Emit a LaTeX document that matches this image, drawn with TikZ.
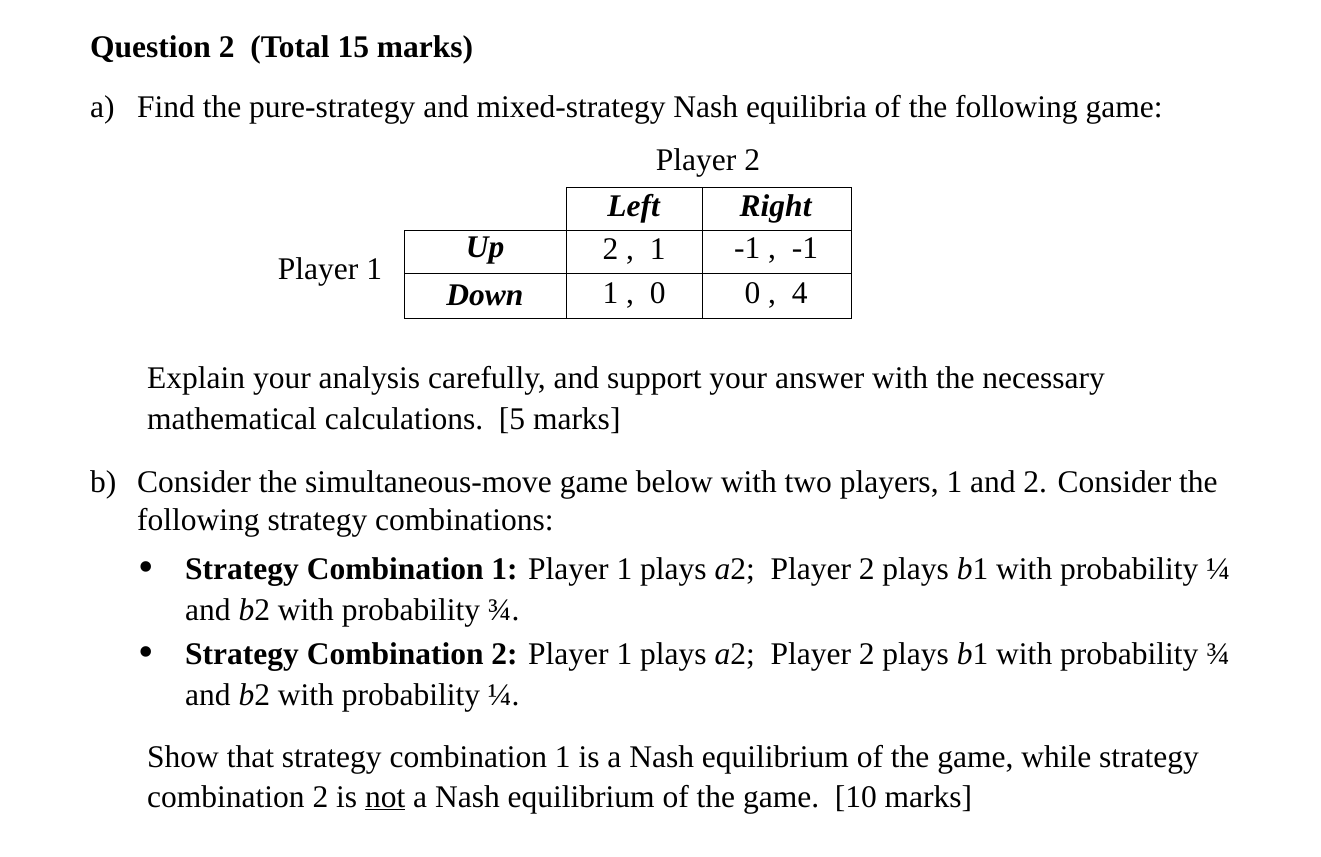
\documentclass[tikz,border=0pt]{standalone}
\usepackage{fontspec}
\setmainfont{Liberation Serif}
\begin{document}
\begin{tikzpicture}[x=1pt,y=-1pt,
  txt/.style={anchor=west,inner sep=0pt,font=\fontsize{31.5}{36}\selectfont},
  ctr/.style={anchor=center,inner sep=0pt,font=\fontsize{31.5}{36}\selectfont},
  bul/.style={anchor=west,inner sep=0pt,font=\fontsize{44}{48}\selectfont},
  grid/.style={line width=0.9pt}]
\useasboundingbox (0,0) rectangle (1321,856);
\node[txt] (q) at (90,50) {\textbf{Question 2\ \ (Total 15 marks)}};
\node[txt] (a) at (90,110) {a)};
\node[txt] (at) at (137,110) {Find the pure-strategy and mixed-strategy Nash equilibria of the following game:};
\node[ctr] (p2) at (708,163) {Player 2};
\node[ctr] (p1) at (330,272) {Player 1};
% table
\draw[grid] (566,187) rectangle (851,318);
\draw[grid] (404,230) rectangle (851,318);
\draw[grid] (404,273) -- (851,273);
\draw[grid] (566,230) -- (566,318);
\draw[grid] (702,187) -- (702,318);
\node[ctr] (l) at (634,209) {\textbf{\textit{Left}}};
\node[ctr] (r) at (776,209) {\textbf{\textit{Right}}};
\node[ctr] (u) at (485,251) {\textbf{\textit{Up}}};
\node[ctr] (d) at (485,295) {\textbf{\textit{Down}}};
\node[ctr] (c11) at (634,251) {2 ,\ \ 1};
\node[ctr] (c12) at (776,251) {-1 ,\ \ -1};
\node[ctr] (c21) at (634,295) {1 ,\ \ 0};
\node[ctr] (c22) at (776,295) {0 ,\ \ 4};
\node[txt] (e1) at (147,381) {Explain your analysis carefully, and support your answer with the necessary};
\node[txt] (e2) at (147,421) {mathematical calculations.\ \ [5 marks]};
\node[txt] (b) at (90,485) {b)};
\node[txt] (b1) at (137,485) {Consider the simultaneous-move game below with two players, 1 and 2. Consider the};
\node[txt] (b2) at (137,523) {following strategy combinations:};
\node[bul] (bu1) at (138,572) {•};
\node[txt] (s1) at (185,572) {\textbf{Strategy Combination 1:} Player 1 plays \textit{a}2;\ \ Player 2 plays \textit{b}1 with probability ¼};
\node[txt] (s1b) at (185,613) {and \textit{b}2 with probability ¾.};
\node[bul] (bu2) at (138,657) {•};
\node[txt] (s2) at (185,657) {\textbf{Strategy Combination 2:} Player 1 plays \textit{a}2;\ \ Player 2 plays \textit{b}1 with probability ¾};
\node[txt] (s2b) at (185,698) {and \textit{b}2 with probability ¼.};
\node[txt] (sh1) at (147,760) {Show that strategy combination 1 is a Nash equilibrium of the game, while strategy};
\node[txt] (sh2) at (147,800) {combination 2 is \underline{not} a Nash equilibrium of the game.\ \ [10 marks]};
\end{tikzpicture}
\end{document}
